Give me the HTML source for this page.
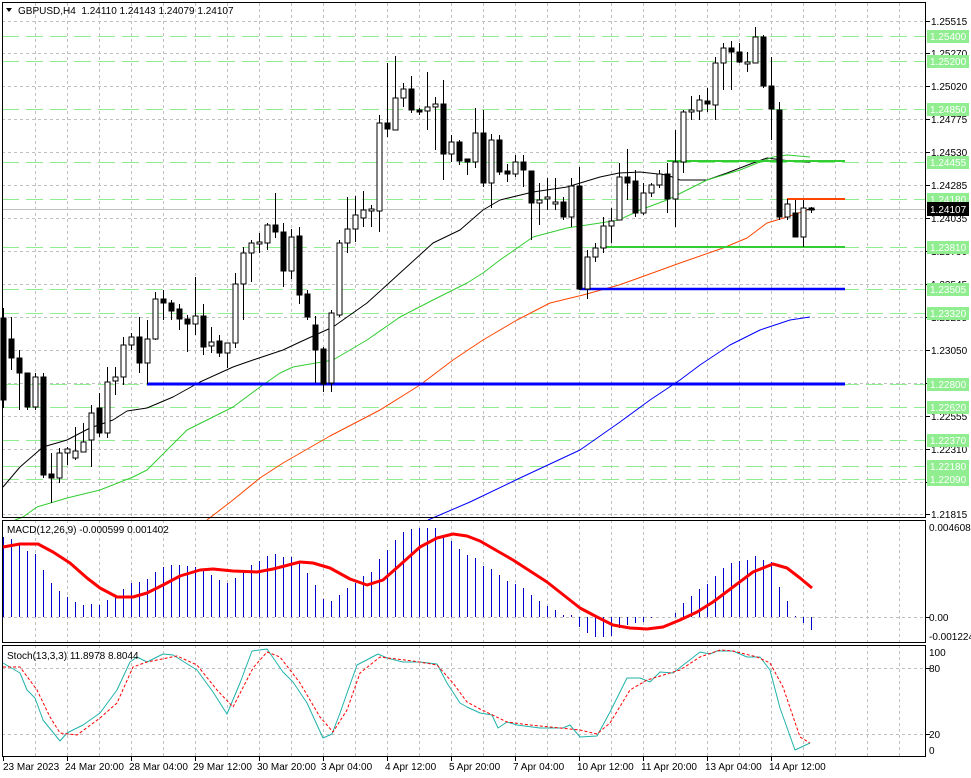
<!DOCTYPE html>
<html><head><meta charset="utf-8"><style>
html,body{margin:0;padding:0;background:#fff;}
svg{display:block;font-family:"Liberation Sans",sans-serif;font-size:10px;}
</style></head><body>
<svg id="s" width="971" height="778" xmlns="http://www.w3.org/2000/svg"></svg>
<script>
var S=document.getElementById('s');var h='';
function L(x1,y1,x2,y2,c,w,d){h+='<line x1="'+x1+'" y1="'+y1+'" x2="'+x2+'" y2="'+y2+'" stroke="'+c+'" stroke-width="'+(w||1)+'"'+(d?' stroke-dasharray="'+d+'"':'')+'/>';}
function T(x,y,t,c,a){h+='<text x="'+x+'" y="'+y+'" fill="'+(c||'#000')+'"'+(a?' text-anchor="'+a+'"':'')+'>'+t+'</text>';}
function P(pts,c,w,d){h+='<polyline fill="none" points="'+pts.map(function(p){return p.join(',')}).join(' ')+'" stroke="'+c+'" stroke-width="'+(w||1)+'"'+(d?' stroke-dasharray="'+d+'"':'')+' stroke-linejoin="round"/>';}
var vx=[];for(var k=1;k<=28;k++)vx.push(3+32*k);
[[3,517],[520,643],[645,757]].forEach(function(p){vx.forEach(function(x){L(x+.5,p[0],x+.5,p[1],'#c0c0c0',1,'3,3');});});
var gy=[[21,'1.25515'],[53,'1.25270'],[86,'1.25020'],[119,'1.24775'],[152,'1.24530'],[185,'1.24285'],[218,'1.24035'],[251,'1.23790'],[284,'1.23545'],[317,'1.23295'],[350,'1.23050'],[383,'1.22805'],[416,'1.22555'],[449,'1.22310'],[482,'1.22065'],[514,'1.21815']];
gy.forEach(function(g){L(2,g[0]+.5,926,g[0]+.5,'#c0c0c0',1,'3,3');L(926,g[0]+.5,930,g[0]+.5,'#000');T(931,g[0]+4,g[1]);});
[617,668,734].forEach(function(y){L(2,y+.5,926,y+.5,'#c0c0c0',1,'3,3');});
var lv=[[36,'1.25400'],[61,'1.25200'],[109,'1.24850'],[162,'1.24455'],[199,'1.24180'],[247,'1.23810'],[289,'1.23505'],[313,'1.23320'],[384,'1.22800'],[407,'1.22620'],[440,'1.22370'],[466,'1.22180'],[479,'1.22090']];
lv.forEach(function(g){L(2,g[0]+.5,926,g[0]+.5,'#90ee90',1,'17,7');});
L(2,209.5,926,209.5,'#c0c0c0',1);
P([[3,487],[20,467],[43,447],[67,440],[90,428],[113,420],[127,411],[147,408],[173,397],[200,382],[233,367],[253,360],[283,350],[300,342],[333,327],[367,303],[400,273],[433,243],[460,230],[483,210],[500,200],[533,192],[567,187],[600,177],[619,173],[640,172],[667,175],[680,180],[707,180],[727,173],[753,163],[767,158],[790,161],[810,162]],'#000',1);
P([[15,520],[23,517],[37,507],[67,498],[100,490],[133,477],[147,470],[167,450],[187,430],[213,417],[233,407],[260,387],[280,373],[293,367],[333,360],[367,340],[400,317],[433,300],[467,283],[483,273],[500,260],[533,237],[567,228],[600,223],[619,220],[640,210],[667,200],[707,180],[740,170],[760,162],[773,157],[787,155],[810,157]],'#32cd32',1);
P([[207,520],[233,500],[260,478],[283,463],[330,436],[380,410],[420,385],[453,360],[483,340],[517,320],[550,303],[583,295],[619,285],[647,275],[680,263],[723,248],[747,238],[767,223],[787,217],[810,209]],'#ff4500',1);
P([[428,520],[470,502],[520,478],[580,450],[620,422],[650,400],[680,380],[700,365],[730,345],[760,330],[790,320],[810,317]],'#0000ff',1);
L(147,384,845,384,'#0000ff',3);L(580,289,845,289,'#0000ff',2.5);
L(600,247,845,247,'#32cd32',2);L(667,161,845,161,'#32cd32',2);L(787,199,845,199,'#ff4500',2);
var C=[['b',318,400,308,408],['b',339,358,317,370],['b',358,373,350,410],['b',373,407,373,410],['w',377,407,373,410],['b',377,475,373,478],['b',474,478,453,503],['w',453,478,448,483],['w',449,453,447,465],['w',451,458,427,460],['w',442,452,423,452],['w',413,440,405,467],['b',408,433,393,437],['w',382,433,367,438],['w',377,381,367,395],['w',345,377,337,385],['w',337,345,333,350],['b',337,363,317,373],['w',339,363,320,384],['w',299,339,292,340],['b',299,303,290,320],['b',303,311,300,320],['b',309,319,304,330],['b',319,324,315,352],['w',316,324,277,335],['b',316,347,304,355],['w',342,346,327,353],['b',341,353,335,357],['w',343,353,343,368],['w',284,343,273,348],['w',253,284,247,320],['w',243,253,240,282],['w',242,244,233,253],['w',225,243,223,250],['b',225,232,193,238],['b',232,271,223,287],['w',237,271,229,279],['b',236,295,227,304],['b',294,317,290,320],['b',325,350,316,383],['b',349,384,347,392],['w',313,383,310,392],['w',243,315,240,317],['w',229,243,197,253],['w',215,229,196,242],['w',210,218,191,227],['w',209,211,205,227],['w',123,211,115,232],['b',123,129,63,137],['w',98,130,56,130],['w',89,98,83,107],['b',89,110,76,113],['b',110,112,108,115],['w',107,111,72,130],['w',104,107,97,150],['b',104,154,80,180],['w',142,154,135,162],['b',142,161,140,165],['b',159,162,159,175],['w',133,162,108,168],['b',133,183,110,187],['w',140,183,134,208],['b',140,172,135,175],['b',171,174,164,182],['w',162,174,155,177],['b',162,170,155,187],['b',171,203,171,240],['w',200,203,183,225],['w',197,199,178,210],['w',202,204,178,210],['b',202,217,197,220],['w',186,217,178,227],['b',186,289,167,290],['w',257,289,250,299],['w',248,257,243,262],['w',226,248,217,253],['w',221,226,208,243],['w',177,220,163,220],['b',177,183,149,200],['b',181,213,170,217],['w',193,213,183,215],['w',185,193,183,197],['w',174,185,170,188],['b',174,199,163,213],['w',162,199,130,227],['w',112,162,110,173],['w',110,112,96,120],['w',100,111,95,120],['b',101,104,88,112],['w',63,105,57,120],['w',48,63,43,90],['b',48,52,41,90],['b',52,62,43,63],['w',62,64,52,72],['w',37,63,27,63],['b',37,86,35,88],['b',86,109,57,140],['b',110,217,102,220],['w',204,217,199,220],['b',213,237,200,237],['w',208,237,200,247],['b',208,210,207,213]];
C.forEach(function(c,i){var x=3+8*i;L(x+.5,c[3],x+.5,c[4],'#000',1);var hgt=Math.max(1,c[2]-c[1]);
 h+='<rect x="'+(x-2)+'" y="'+c[1]+'" width="5" height="'+hgt+'" fill="'+(c[0]=='b'?'#000':'#fff')+'" stroke="#000" stroke-width="1"/>';});
L(807,209.5,815,209.5,'#000',1);
lv.forEach(function(g){h+='<rect x="927" y="'+(g[0]-6)+'" width="42" height="13" fill="#90ee90"/>';T(930,g[0]+4,g[1],'#fff');});
h+='<rect x="927" y="202" width="42" height="14" fill="#000"/>';T(930,213,'1.24107','#fff');
h+='<polygon points="6,8 12,8 9,12" fill="#000"/>';
T(18,14,'GBPUSD,H4&#160; 1.24110 1.24143 1.24079 1.24107');
var m1=[537,539,543,551,554,570,583,591,597,602,605,604,605,600,597,589,583,582,579,572,567,565,565,566,567,569,575,580,583,578,572,565,561,556,554,557,557,562,573,585,599,601,595,588,583,576,572,559,550,540,532,529,528,528,528,537,541,549,555,558,566,569,575,581,584,588,595,601,606,610,615,615,627,633,637,637,636,628,625,623,622,618,617,617,613,603,596,589,584,576,568,563,561,560,556,560,562,587,601,616,623,630];
m1.forEach(function(v,i){var x=3+8*i+.5;if(v!=617)L(x,617,x,v,'#0000cd',1);});
P([[3,547],[20,544],[38,544],[53,552],[70,563],[87,578],[100,588],[117,597],[133,597],[147,593],[163,585],[180,576],[200,570],[213,569],[233,571],[257,572],[273,569],[300,562],[313,563],[330,568],[350,579],[367,585],[383,580],[400,565],[420,547],[437,538],[453,534],[467,536],[480,541],[513,560],[547,582],[580,608],[597,617],[613,625],[630,628],[647,629],[663,627],[680,620],[697,612],[713,602],[733,587],[753,572],[773,564],[787,568],[800,578],[812,588]],'#ff0000',3);
T(7,533,'MACD(12,26,9) -0.000599 0.001402');
T(929,531,'0.004608');T(929,621,'0.00');T(929,640,'-0.001224');
P([[3,663],[20,673],[27,690],[35,698],[43,720],[60,741],[67,733],[83,725],[100,713],[117,690],[130,662],[137,657],[147,662],[163,654],[173,655],[197,670],[213,692],[227,714],[240,683],[252,651],[267,649],[283,672],[293,682],[307,703],[323,738],[332,734],[340,713],[357,665],[378,654],[387,658],[403,662],[420,662],[437,664],[447,683],[460,703],[467,707],[480,713],[492,715],[498,728],[507,722],[517,725],[540,728],[563,728],[570,725],[580,737],[597,736],[610,712],[627,678],[640,678],[650,682],[660,672],[673,673],[700,652],[710,654],[717,651],[733,651],[747,657],[760,657],[770,670],[780,708],[795,750],[810,743]],'#20b2aa',1);
P([[3,667],[20,667],[37,690],[50,717],[60,733],[77,735],[100,718],[117,703],[133,667],[147,662],[177,656],[197,665],[217,690],[233,707],[253,668],[267,652],[280,657],[300,683],[320,717],[333,732],[347,710],[360,673],[380,657],[413,661],[437,665],[453,683],[467,702],[480,709],[507,722],[530,725],[580,730],[597,734],[610,723],[630,690],[647,680],[680,670],[700,657],[720,650],[733,651],[757,657],[770,663],[783,687],[800,737],[810,743]],'#ff0000',1,'3,2');
T(7,659,'Stoch(13,3,3) 11.8978 8.8044');
T(929,656,'100');T(929,672,'80');T(929,738,'20');T(929,754,'0');
L(926,668.5,930,668.5,'#000');L(926,734.5,930,734.5,'#000');L(926,617.5,930,617.5,'#000');
h+='<rect x="2.5" y="2.5" width="923" height="515" fill="none" stroke="#000"/>';
h+='<rect x="2.5" y="520.5" width="923" height="122" fill="none" stroke="#000"/>';
h+='<rect x="2.5" y="645.5" width="923" height="111" fill="none" stroke="#000"/>';
var tl=['23 Mar 2023','24 Mar 20:00','28 Mar 04:00','29 Mar 12:00','30 Mar 20:00','3 Apr 04:00','4 Apr 12:00','5 Apr 20:00','7 Apr 04:00','10 Apr 12:00','11 Apr 20:00','13 Apr 04:00','14 Apr 12:00'];
tl.forEach(function(t,i){var x=3+64*i;L(x+.5,757,x+.5,761,'#000');T(x+(i==0?0:-2),770,t);});
S.innerHTML=h;
</script>
</body></html>
